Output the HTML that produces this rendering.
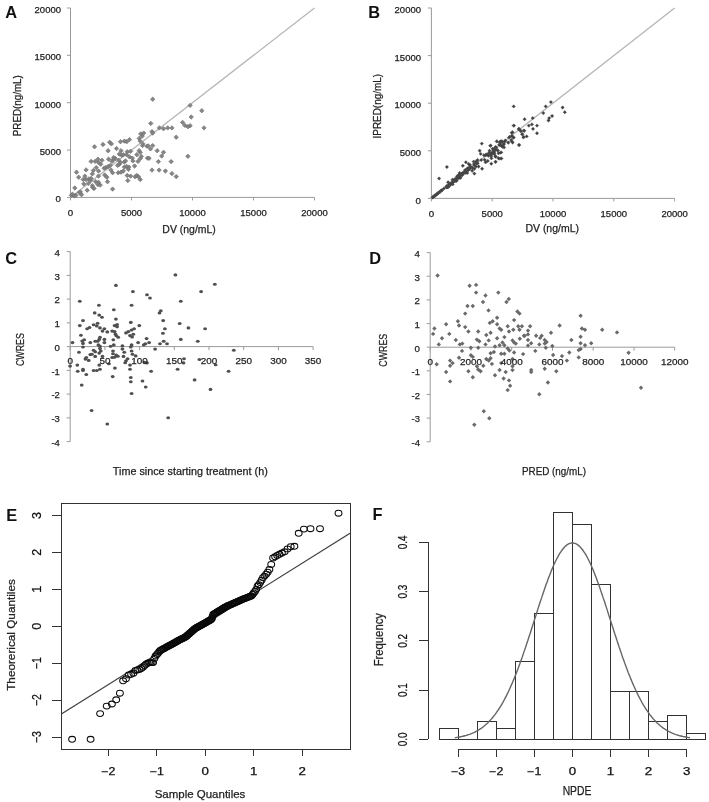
<!DOCTYPE html>
<html lang="en"><head><meta charset="utf-8"><title>Goodness-of-fit plots</title>
<style>html,body{margin:0;padding:0;background:#fff}body{width:709px;height:802px;overflow:hidden}svg{display:block;font-family:'Liberation Sans', Arial, sans-serif}</style></head><body>
<svg width="709" height="802" viewBox="0 0 709 802">
<rect width="709" height="802" fill="#ffffff"/>
<defs><filter id="bl" x="-5%" y="-5%" width="110%" height="110%"><feGaussianBlur stdDeviation="0.45"/></filter></defs>
<g>
<path d="M70.5 8.0V197.4H314.5" fill="none" stroke="#9a9a9a" stroke-width="1"/>
<path d="M67.0 197.4H70.5M70.5 197.4v3M67.0 150.1H70.5M131.5 197.4v3M67.0 102.7H70.5M192.5 197.4v3M67.0 55.3H70.5M253.5 197.4v3M67.0 8.0H70.5M314.5 197.4v3" stroke="#9a9a9a" stroke-width="1" fill="none"/>
<path d="M70.5 197.4L314.5 8.0" stroke="#b6b6b6" stroke-width="1.3" fill="none"/>
<path d="M70.3 194.2L72.5 192.0L74.7 194.2L72.5 196.4ZM72.0 195.9L74.2 193.7L76.4 195.9L74.2 198.1ZM69.2 195.3L71.4 193.1L73.6 195.3L71.4 197.5ZM73.7 195.3L75.9 193.1L78.1 195.3L75.9 197.5ZM72.6 188.0L74.8 185.8L77.0 188.0L74.8 190.2ZM78.2 191.9L80.4 189.7L82.6 191.9L80.4 194.1ZM79.3 194.7L81.5 192.5L83.7 194.7L81.5 196.9ZM77.1 192.5L79.3 190.3L81.5 192.5L79.3 194.7ZM85.0 190.2L87.2 188.0L89.4 190.2L87.2 192.4ZM90.6 187.4L92.8 185.2L95.0 187.4L92.8 189.6ZM91.8 188.5L94.0 186.3L96.2 188.5L94.0 190.7ZM90.1 185.7L92.3 183.5L94.5 185.7L92.3 187.9ZM74.3 172.2L76.5 170.0L78.7 172.2L76.5 174.4ZM76.5 177.2L78.7 175.0L80.9 177.2L78.7 179.4ZM83.9 169.9L86.1 167.7L88.3 169.9L86.1 172.1ZM81.0 179.5L83.2 177.3L85.4 179.5L83.2 181.7ZM82.7 176.1L84.9 173.9L87.1 176.1L84.9 178.3ZM83.9 179.5L86.1 177.3L88.3 179.5L86.1 181.7ZM86.7 178.9L88.9 176.7L91.1 178.9L88.9 181.1ZM88.9 178.4L91.1 176.2L93.3 178.4L91.1 180.6ZM88.4 180.6L90.6 178.4L92.8 180.6L90.6 182.8ZM86.1 183.4L88.3 181.2L90.5 183.4L88.3 185.6ZM81.6 184.0L83.8 181.8L86.0 184.0L83.8 186.2ZM90.1 173.9L92.3 171.7L94.5 173.9L92.3 176.1ZM91.2 170.5L93.4 168.3L95.6 170.5L93.4 172.7ZM94.0 167.6L96.2 165.4L98.4 167.6L96.2 169.8ZM93.4 181.7L95.6 179.5L97.8 181.7L95.6 183.9ZM96.3 182.3L98.5 180.1L100.7 182.3L98.5 184.5ZM95.7 184.6L97.9 182.4L100.1 184.6L97.9 186.8ZM98.0 185.1L100.2 182.9L102.4 185.1L100.2 187.3ZM96.3 176.1L98.5 173.9L100.7 176.1L98.5 178.3ZM96.3 171.0L98.5 168.8L100.7 171.0L98.5 173.2ZM88.9 161.4L91.1 159.2L93.3 161.4L91.1 163.6ZM92.9 161.4L95.1 159.2L97.3 161.4L95.1 163.6ZM95.7 159.2L97.9 157.0L100.1 159.2L97.9 161.4ZM96.3 162.6L98.5 160.4L100.7 162.6L98.5 164.8ZM98.5 164.3L100.7 162.1L102.9 164.3L100.7 166.5ZM99.7 160.3L101.9 158.1L104.1 160.3L101.9 162.5ZM92.3 146.8L94.5 144.6L96.7 146.8L94.5 149.0ZM100.8 144.5L103.0 142.3L105.2 144.5L103.0 146.7ZM107.5 142.3L109.7 140.1L111.9 142.3L109.7 144.5ZM109.2 143.9L111.4 141.7L113.6 143.9L111.4 146.1ZM105.9 150.7L108.1 148.5L110.3 150.7L108.1 152.9ZM106.4 159.2L108.6 157.0L110.8 159.2L108.6 161.4ZM101.9 168.2L104.1 166.0L106.3 168.2L104.1 170.4ZM103.6 167.6L105.8 165.4L108.0 167.6L105.8 169.8ZM105.9 166.5L108.1 164.3L110.3 166.5L108.1 168.7ZM108.1 165.4L110.3 163.2L112.5 165.4L110.3 167.6ZM109.8 161.4L112.0 159.2L114.2 161.4L112.0 163.6ZM110.9 159.7L113.1 157.5L115.3 159.7L113.1 161.9ZM111.5 157.5L113.7 155.3L115.9 157.5L113.7 159.7ZM113.2 158.6L115.4 156.4L117.6 158.6L115.4 160.8ZM114.3 148.5L116.5 146.3L118.7 148.5L116.5 150.7ZM118.8 150.7L121.0 148.5L123.2 150.7L121.0 152.9ZM118.3 141.7L120.5 139.5L122.7 141.7L120.5 143.9ZM122.2 141.1L124.4 138.9L126.6 141.1L124.4 143.3ZM124.5 141.7L126.7 139.5L128.9 141.7L126.7 143.9ZM117.1 154.1L119.3 151.9L121.5 154.1L119.3 156.3ZM119.4 155.2L121.6 153.0L123.8 155.2L121.6 157.4ZM121.1 154.7L123.3 152.5L125.5 154.7L123.3 156.9ZM116.6 160.3L118.8 158.1L121.0 160.3L118.8 162.5ZM118.3 162.6L120.5 160.4L122.7 162.6L120.5 164.8ZM117.1 164.3L119.3 162.1L121.5 164.3L119.3 166.5ZM115.4 165.4L117.6 163.2L119.8 165.4L117.6 167.6ZM122.2 162.0L124.4 159.8L126.6 162.0L124.4 164.2ZM123.3 160.9L125.5 158.7L127.7 160.9L125.5 163.1ZM125.0 151.8L127.2 149.6L129.4 151.8L127.2 154.0ZM128.4 151.3L130.6 149.1L132.8 151.3L130.6 153.5ZM124.5 154.7L126.7 152.5L128.9 154.7L126.7 156.9ZM127.3 156.9L129.5 154.7L131.7 156.9L129.5 159.1ZM130.1 158.1L132.3 155.9L134.5 158.1L132.3 160.3ZM130.7 160.9L132.9 158.7L135.1 160.9L132.9 163.1ZM136.9 150.7L139.1 148.5L141.3 150.7L139.1 152.9ZM138.0 152.4L140.2 150.2L142.4 152.4L140.2 154.6ZM134.6 154.7L136.8 152.5L139.0 154.7L136.8 156.9ZM139.1 156.4L141.3 154.2L143.5 156.4L141.3 158.6ZM138.0 158.6L140.2 156.4L142.4 158.6L140.2 160.8ZM135.8 161.4L138.0 159.2L140.2 161.4L138.0 163.6ZM132.4 166.0L134.6 163.8L136.8 166.0L134.6 168.2ZM122.2 167.1L124.4 164.9L126.6 167.1L124.4 169.3ZM124.5 166.5L126.7 164.3L128.9 166.5L126.7 168.7ZM126.7 167.1L128.9 164.9L131.1 167.1L128.9 169.3ZM126.2 169.3L128.4 167.1L130.6 169.3L128.4 171.5ZM108.7 169.9L110.9 167.7L113.1 169.9L110.9 172.1ZM110.4 172.7L112.6 170.5L114.8 172.7L112.6 174.9ZM116.0 172.7L118.2 170.5L120.4 172.7L118.2 174.9ZM118.8 172.2L121.0 170.0L123.2 172.2L121.0 174.4ZM121.1 171.0L123.3 168.8L125.5 171.0L123.3 173.2ZM102.5 175.0L104.7 172.8L106.9 175.0L104.7 177.2ZM104.7 177.2L106.9 175.0L109.1 177.2L106.9 179.4ZM105.3 181.7L107.5 179.5L109.7 181.7L107.5 183.9ZM110.4 189.1L112.6 186.9L114.8 189.1L112.6 191.3ZM125.0 175.5L127.2 173.3L129.4 175.5L127.2 177.7ZM128.4 176.1L130.6 173.9L132.8 176.1L130.6 178.3ZM125.6 180.6L127.8 178.4L130.0 180.6L127.8 182.8ZM132.9 176.7L135.1 174.5L137.3 176.7L135.1 178.9ZM134.6 175.5L136.8 173.3L139.0 175.5L136.8 177.7ZM136.3 176.7L138.5 174.5L140.7 176.7L138.5 178.9ZM138.0 179.5L140.2 177.3L142.4 179.5L140.2 181.7ZM138.0 141.1L140.2 138.9L142.4 141.1L140.2 143.3ZM140.8 143.9L143.0 141.7L145.2 143.9L143.0 146.1ZM140.3 145.6L142.5 143.4L144.7 145.6L142.5 147.8ZM144.8 146.2L147.0 144.0L149.2 146.2L147.0 148.4ZM145.3 158.1L147.5 155.9L149.7 158.1L147.5 160.3ZM150.5 99.2L152.7 97.0L154.9 99.2L152.7 101.4ZM187.9 105.4L190.1 103.2L192.3 105.4L190.1 107.6ZM199.6 110.7L201.8 108.5L204.0 110.7L201.8 112.9ZM189.0 117.0L191.2 114.8L193.4 117.0L191.2 119.2ZM180.4 122.4L182.6 120.2L184.8 122.4L182.6 124.6ZM182.7 125.4L184.9 123.2L187.1 125.4L184.9 127.6ZM185.7 126.7L187.9 124.5L190.1 126.7L187.9 128.9ZM187.9 125.7L190.1 123.5L192.3 125.7L190.1 127.9ZM201.8 127.9L204.0 125.7L206.2 127.9L204.0 130.1ZM148.6 123.4L150.8 121.2L153.0 123.4L150.8 125.6ZM157.2 127.9L159.4 125.7L161.6 127.9L159.4 130.1ZM161.3 128.7L163.5 126.5L165.7 128.7L163.5 130.9ZM165.5 127.9L167.7 125.7L169.9 127.9L167.7 130.1ZM169.7 127.9L171.9 125.7L174.1 127.9L171.9 130.1ZM149.8 131.6L152.0 129.4L154.2 131.6L152.0 133.8ZM150.5 133.1L152.7 130.9L154.9 133.1L152.7 135.3ZM174.0 137.2L176.2 135.0L178.4 137.2L176.2 139.4ZM150.5 145.6L152.7 143.4L154.9 145.6L152.7 147.8ZM148.3 148.9L150.5 146.7L152.7 148.9L150.5 151.1ZM146.0 145.9L148.2 143.7L150.4 145.9L148.2 148.1ZM155.0 150.7L157.2 148.5L159.4 150.7L157.2 152.9ZM161.3 152.3L163.5 150.1L165.7 152.3L163.5 154.5ZM159.5 156.0L161.7 153.8L163.9 156.0L161.7 158.2ZM146.8 158.3L149.0 156.1L151.2 158.3L149.0 160.5ZM156.2 161.6L158.4 159.4L160.6 161.6L158.4 163.8ZM168.9 161.6L171.1 159.4L173.3 161.6L171.1 163.8ZM185.7 156.3L187.9 154.1L190.1 156.3L187.9 158.5ZM149.8 170.1L152.0 167.9L154.2 170.1L152.0 172.3ZM156.9 170.1L159.1 167.9L161.3 170.1L159.1 172.3ZM163.2 171.0L165.4 168.8L167.6 171.0L165.4 173.2ZM169.7 173.6L171.9 171.4L174.1 173.6L171.9 175.8ZM174.0 176.6L176.2 174.4L178.4 176.6L176.2 178.8ZM127.3 139.6L129.5 137.4L131.7 139.6L129.5 141.8ZM138.5 133.9L140.7 131.7L142.9 133.9L140.7 136.1ZM141.5 133.1L143.7 130.9L145.9 133.1L143.7 135.3ZM140.0 136.1L142.2 133.9L144.4 136.1L142.2 138.3ZM137.0 138.4L139.2 136.2L141.4 138.4L139.2 140.6Z" fill="#868686" stroke="#747474" stroke-width="0.7" filter="url(#bl)"/>
<text x="61" y="202.3" font-size="9.3" text-anchor="end" font-weight="normal" fill="#222" textLength="5.4" lengthAdjust="spacingAndGlyphs" stroke="#222" stroke-width="0.25">0</text>
<text x="70.5" y="215.5" font-size="9.3" text-anchor="middle" font-weight="normal" fill="#222" textLength="5.4" lengthAdjust="spacingAndGlyphs" stroke="#222" stroke-width="0.25">0</text>
<text x="61" y="155.0" font-size="9.3" text-anchor="end" font-weight="normal" fill="#222" textLength="21.2" lengthAdjust="spacingAndGlyphs" stroke="#222" stroke-width="0.25">5000</text>
<text x="131.5" y="215.5" font-size="9.3" text-anchor="middle" font-weight="normal" fill="#222" textLength="21.2" lengthAdjust="spacingAndGlyphs" stroke="#222" stroke-width="0.25">5000</text>
<text x="61" y="107.6" font-size="9.3" text-anchor="end" font-weight="normal" fill="#222" textLength="26.4" lengthAdjust="spacingAndGlyphs" stroke="#222" stroke-width="0.25">10000</text>
<text x="192.5" y="215.5" font-size="9.3" text-anchor="middle" font-weight="normal" fill="#222" textLength="26.4" lengthAdjust="spacingAndGlyphs" stroke="#222" stroke-width="0.25">10000</text>
<text x="61" y="60.2" font-size="9.3" text-anchor="end" font-weight="normal" fill="#222" textLength="26.4" lengthAdjust="spacingAndGlyphs" stroke="#222" stroke-width="0.25">15000</text>
<text x="253.5" y="215.5" font-size="9.3" text-anchor="middle" font-weight="normal" fill="#222" textLength="26.4" lengthAdjust="spacingAndGlyphs" stroke="#222" stroke-width="0.25">15000</text>
<text x="61" y="12.9" font-size="9.3" text-anchor="end" font-weight="normal" fill="#222" textLength="26.4" lengthAdjust="spacingAndGlyphs" stroke="#222" stroke-width="0.25">20000</text>
<text x="314.5" y="215.5" font-size="9.3" text-anchor="middle" font-weight="normal" fill="#222" textLength="26.4" lengthAdjust="spacingAndGlyphs" stroke="#222" stroke-width="0.25">20000</text>
<text x="20.8" y="105.7" font-size="10.5" text-anchor="middle" font-weight="normal" fill="#222" textLength="61" lengthAdjust="spacingAndGlyphs" transform="rotate(-90 20.8 105.7)" stroke="#222" stroke-width="0.25">PRED(ng/mL)</text>
<text x="189.1" y="232.9" font-size="10.5" text-anchor="middle" font-weight="normal" fill="#222" textLength="53.5" lengthAdjust="spacingAndGlyphs" stroke="#222" stroke-width="0.25">DV (ng/mL)</text>
<text x="5.3" y="17.9" font-size="16.4" text-anchor="start" font-weight="bold" fill="#111">A</text>
</g>
<g>
<path d="M431.4 8.0V198.4H674.5999999999999" fill="none" stroke="#9a9a9a" stroke-width="1"/>
<path d="M427.9 198.4H431.4M431.4 198.4v3M427.9 150.8H431.4M492.2 198.4v3M427.9 103.2H431.4M553.0 198.4v3M427.9 55.6H431.4M613.8 198.4v3M427.9 8.0H431.4M674.6 198.4v3" stroke="#9a9a9a" stroke-width="1" fill="none"/>
<path d="M431.4 198.4L674.5999999999999 8.0" stroke="#b6b6b6" stroke-width="1.3" fill="none"/>
<path d="M512.0 106.4L513.7 104.7L515.4 106.4L513.7 108.1ZM549.2 102.1L550.9 100.4L552.6 102.1L550.9 103.8ZM544.0 106.4L545.7 104.7L547.4 106.4L545.7 108.1ZM560.9 107.5L562.6 105.8L564.3 107.5L562.6 109.2ZM563.1 112.2L564.8 110.5L566.5 112.2L564.8 113.9ZM541.6 113.1L543.3 111.4L545.0 113.1L543.3 114.8ZM550.4 116.0L552.1 114.3L553.8 116.0L552.1 117.7ZM547.5 118.1L549.2 116.4L550.9 118.1L549.2 119.8ZM546.8 120.5L548.5 118.8L550.2 120.5L548.5 122.2ZM531.0 118.1L532.7 116.4L534.4 118.1L532.7 119.8ZM522.9 119.2L524.6 117.5L526.3 119.2L524.6 120.9ZM512.0 125.6L513.7 123.9L515.4 125.6L513.7 127.3ZM527.1 125.6L528.8 123.9L530.5 125.6L528.8 127.3ZM530.2 124.4L531.9 122.7L533.6 124.4L531.9 126.1ZM535.3 125.6L537.0 123.9L538.7 125.6L537.0 127.3ZM531.3 128.9L533.0 127.2L534.7 128.9L533.0 130.6ZM517.2 128.7L518.9 127.0L520.6 128.7L518.9 130.4ZM518.3 130.1L520.0 128.4L521.7 130.1L520.0 131.8ZM522.6 130.8L524.3 129.1L526.0 130.8L524.3 132.5ZM535.3 133.2L537.0 131.5L538.7 133.2L537.0 134.9ZM510.9 132.2L512.6 130.5L514.3 132.2L512.6 133.9ZM520.5 134.3L522.2 132.6L523.9 134.3L522.2 136.0ZM525.0 136.4L526.7 134.7L528.4 136.4L526.7 138.1ZM521.7 137.4L523.4 135.7L525.1 137.4L523.4 139.1ZM510.2 135.7L511.9 134.0L513.6 135.7L511.9 137.4ZM512.0 137.5L513.7 135.8L515.4 137.5L513.7 139.2ZM507.3 137.5L509.0 135.8L510.7 137.5L509.0 139.2ZM509.5 139.9L511.2 138.2L512.9 139.9L511.2 141.6ZM510.9 142.5L512.6 140.8L514.3 142.5L512.6 144.2ZM506.6 142.5L508.3 140.8L510.0 142.5L508.3 144.2ZM517.2 144.9L518.9 143.2L520.6 144.9L518.9 146.6ZM495.1 141.4L496.8 139.7L498.5 141.4L496.8 143.1ZM498.9 141.4L500.6 139.7L502.3 141.4L500.6 143.1ZM500.3 142.1L502.0 140.4L503.7 142.1L502.0 143.8ZM503.1 141.4L504.8 139.7L506.5 141.4L504.8 143.1ZM497.5 144.9L499.2 143.2L500.9 144.9L499.2 146.6ZM501.7 144.9L503.4 143.2L505.1 144.9L503.4 146.6ZM500.3 146.3L502.0 144.6L503.7 146.3L502.0 148.0ZM502.4 147.4L504.1 145.7L505.8 147.4L504.1 149.1ZM489.0 145.6L490.7 143.9L492.4 145.6L490.7 147.3ZM496.1 150.5L497.8 148.8L499.5 150.5L497.8 152.2ZM498.9 152.6L500.6 150.9L502.3 152.6L500.6 154.3ZM496.8 153.3L498.5 151.6L500.2 153.3L498.5 155.0ZM492.5 154.0L494.2 152.3L495.9 154.0L494.2 155.7ZM489.7 153.3L491.4 151.6L493.1 153.3L491.4 155.0ZM493.9 156.2L495.6 154.5L497.3 156.2L495.6 157.9ZM497.5 158.6L499.2 156.9L500.9 158.6L499.2 160.3ZM499.6 158.6L501.3 156.9L503.0 158.6L501.3 160.3ZM489.7 158.3L491.4 156.6L493.1 158.3L491.4 160.0ZM493.9 161.8L495.6 160.1L497.3 161.8L495.6 163.5ZM437.4 178.5L439.1 176.8L440.8 178.5L439.1 180.2ZM445.2 167.0L446.9 165.3L448.6 167.0L446.9 168.7ZM480.1 143.6L481.8 141.9L483.5 143.6L481.8 145.3ZM488.6 145.7L490.3 144.0L492.0 145.7L490.3 147.4ZM478.0 150.7L479.7 149.0L481.4 150.7L479.7 152.4ZM479.0 153.9L480.7 152.2L482.4 153.9L480.7 155.6ZM512.2 125.6L513.9 123.9L515.6 125.6L513.9 127.3ZM517.5 145.1L519.2 143.4L520.9 145.1L519.2 146.8ZM461.1 165.8L462.8 164.1L464.5 165.8L462.8 167.5ZM464.2 162.3L465.9 160.6L467.6 162.3L465.9 164.0ZM467.0 164.0L468.7 162.3L470.4 164.0L468.7 165.7ZM472.0 161.6L473.7 159.9L475.4 161.6L473.7 163.3ZM468.4 166.5L470.1 164.8L471.8 166.5L470.1 168.2ZM472.7 168.7L474.4 167.0L476.1 168.7L474.4 170.4ZM470.5 170.8L472.2 169.1L473.9 170.8L472.2 172.5ZM472.7 173.6L474.4 171.9L476.1 173.6L474.4 175.3ZM476.9 166.5L478.6 164.8L480.3 166.5L478.6 168.2ZM480.4 168.7L482.1 167.0L483.8 168.7L482.1 170.4ZM465.6 172.9L467.3 171.2L469.0 172.9L467.3 174.6ZM462.1 172.2L463.8 170.5L465.5 172.2L463.8 173.9ZM457.9 172.9L459.6 171.2L461.3 172.9L459.6 174.6ZM483.9 155.3L485.6 153.6L487.3 155.3L485.6 157.0ZM487.5 154.6L489.2 152.9L490.9 154.6L489.2 156.3ZM489.6 156.0L491.3 154.3L493.0 156.0L491.3 157.7ZM492.4 153.1L494.1 151.4L495.8 153.1L494.1 154.8ZM495.9 150.3L497.6 148.6L499.3 150.3L497.6 152.0ZM499.5 152.4L501.2 150.7L502.9 152.4L501.2 154.1ZM493.8 156.7L495.5 155.0L497.2 156.7L495.5 158.4ZM496.6 158.1L498.3 156.4L500.0 158.1L498.3 159.8ZM499.5 158.4L501.2 156.7L502.9 158.4L501.2 160.1ZM489.6 163.7L491.3 162.0L493.0 163.7L491.3 165.4ZM493.8 161.9L495.5 160.2L497.2 161.9L495.5 163.6ZM486.1 160.9L487.8 159.2L489.5 160.9L487.8 162.6ZM483.9 162.3L485.6 160.6L487.3 162.3L485.6 164.0ZM495.2 141.4L496.9 139.7L498.6 141.4L496.9 143.1ZM498.1 142.6L499.8 140.9L501.5 142.6L499.8 144.3ZM500.2 141.2L501.9 139.5L503.6 141.2L501.9 142.9ZM502.3 144.0L504.0 142.3L505.7 144.0L504.0 145.7ZM500.9 146.8L502.6 145.1L504.3 146.8L502.6 148.5ZM498.8 145.4L500.5 143.7L502.2 145.4L500.5 147.1ZM503.7 140.5L505.4 138.8L507.1 140.5L505.4 142.2ZM506.5 142.6L508.2 140.9L509.9 142.6L508.2 144.3ZM510.0 141.2L511.7 139.5L513.4 141.2L511.7 142.9ZM511.5 137.6L513.2 135.9L514.9 137.6L513.2 139.3ZM507.9 136.9L509.6 135.2L511.3 136.9L509.6 138.6ZM510.0 132.7L511.7 131.0L513.4 132.7L511.7 134.4ZM517.1 129.2L518.8 127.5L520.5 129.2L518.8 130.9ZM519.2 131.3L520.9 129.6L522.6 131.3L520.9 133.0ZM520.6 134.1L522.3 132.4L524.0 134.1L522.3 135.8ZM522.0 136.9L523.7 135.2L525.4 136.9L523.7 138.6ZM522.0 130.6L523.7 128.9L525.4 130.6L523.7 132.3ZM435.2 193.9L436.9 192.2L438.6 193.9L436.9 195.6ZM431.5 196.7L433.2 195.0L434.9 196.7L433.2 198.4ZM438.2 191.8L439.9 190.1L441.6 191.8L439.9 193.5ZM437.8 192.0L439.5 190.3L441.2 192.0L439.5 193.7ZM431.0 197.5L432.7 195.8L434.4 197.5L432.7 199.2ZM431.8 196.8L433.5 195.1L435.2 196.8L433.5 198.5ZM436.6 192.9L438.3 191.2L440.0 192.9L438.3 194.6ZM433.7 195.4L435.4 193.7L437.1 195.4L435.4 197.1ZM439.6 190.4L441.3 188.7L443.0 190.4L441.3 192.1ZM436.2 193.4L437.9 191.7L439.6 193.4L437.9 195.1ZM444.7 186.2L446.4 184.5L448.1 186.2L446.4 187.9ZM434.7 194.4L436.4 192.7L438.1 194.4L436.4 196.1ZM432.5 196.0L434.2 194.3L435.9 196.0L434.2 197.7ZM442.3 188.4L444.0 186.7L445.7 188.4L444.0 190.1ZM433.1 196.1L434.8 194.4L436.5 196.1L434.8 197.8ZM435.9 193.7L437.6 192.0L439.3 193.7L437.6 195.4ZM438.4 191.5L440.1 189.8L441.8 191.5L440.1 193.2ZM433.4 195.4L435.1 193.7L436.8 195.4L435.1 197.1ZM440.4 190.2L442.1 188.5L443.8 190.2L442.1 191.9ZM439.0 191.0L440.7 189.3L442.4 191.0L440.7 192.7ZM452.6 181.1L454.3 179.4L456.0 181.1L454.3 182.8ZM457.0 175.1L458.7 173.4L460.4 175.1L458.7 176.8ZM448.7 184.7L450.4 183.0L452.1 184.7L450.4 186.4ZM460.3 175.1L462.0 173.4L463.7 175.1L462.0 176.8ZM457.6 177.3L459.3 175.6L461.0 177.3L459.3 179.0ZM446.4 182.2L448.1 180.5L449.8 182.2L448.1 183.9ZM451.9 181.0L453.6 179.3L455.3 181.0L453.6 182.7ZM453.2 180.6L454.9 178.9L456.6 180.6L454.9 182.3ZM445.0 187.4L446.7 185.7L448.4 187.4L446.7 189.1ZM454.7 180.5L456.4 178.8L458.1 180.5L456.4 182.2ZM460.3 175.2L462.0 173.5L463.7 175.2L462.0 176.9ZM455.1 176.9L456.8 175.2L458.5 176.9L456.8 178.6ZM454.9 180.8L456.6 179.1L458.3 180.8L456.6 182.5ZM461.5 172.9L463.2 171.2L464.9 172.9L463.2 174.6ZM452.9 180.4L454.6 178.7L456.3 180.4L454.6 182.1ZM457.1 177.3L458.8 175.6L460.5 177.3L458.8 179.0ZM456.1 175.6L457.8 173.9L459.5 175.6L457.8 177.3ZM449.5 183.0L451.2 181.3L452.9 183.0L451.2 184.7ZM451.3 181.6L453.0 179.9L454.7 181.6L453.0 183.3ZM452.7 180.6L454.4 178.9L456.1 180.6L454.4 182.3ZM447.4 184.3L449.1 182.6L450.8 184.3L449.1 186.0ZM458.3 175.7L460.0 174.0L461.7 175.7L460.0 177.4ZM446.7 185.1L448.4 183.4L450.1 185.1L448.4 186.8ZM460.2 173.4L461.9 171.7L463.6 173.4L461.9 175.1ZM445.8 187.2L447.5 185.5L449.2 187.2L447.5 188.9ZM460.4 173.9L462.1 172.2L463.8 173.9L462.1 175.6ZM459.2 174.7L460.9 173.0L462.6 174.7L460.9 176.4ZM451.9 181.7L453.6 180.0L455.3 181.7L453.6 183.4ZM450.8 179.7L452.5 178.0L454.2 179.7L452.5 181.4ZM447.0 186.7L448.7 185.0L450.4 186.7L448.7 188.4ZM447.5 184.4L449.2 182.7L450.9 184.4L449.2 186.1ZM453.1 179.2L454.8 177.5L456.5 179.2L454.8 180.9ZM455.0 178.6L456.7 176.9L458.4 178.6L456.7 180.3ZM451.9 180.9L453.6 179.2L455.3 180.9L453.6 182.6ZM451.0 184.3L452.7 182.6L454.4 184.3L452.7 186.0ZM456.9 178.3L458.6 176.6L460.3 178.3L458.6 180.0ZM453.7 180.9L455.4 179.2L457.1 180.9L455.4 182.6ZM445.3 187.4L447.0 185.7L448.7 187.4L447.0 189.1ZM460.7 173.7L462.4 172.0L464.1 173.7L462.4 175.4ZM458.8 177.9L460.5 176.2L462.2 177.9L460.5 179.6ZM451.4 181.8L453.1 180.1L454.8 181.8L453.1 183.5ZM455.9 177.6L457.6 175.9L459.3 177.6L457.6 179.3ZM464.8 169.9L466.5 168.2L468.2 169.9L466.5 171.6ZM468.5 167.6L470.2 165.9L471.9 167.6L470.2 169.3ZM474.9 163.0L476.6 161.3L478.3 163.0L476.6 164.7ZM468.1 168.4L469.8 166.7L471.5 168.4L469.8 170.1ZM466.2 170.0L467.9 168.3L469.6 170.0L467.9 171.7ZM494.4 147.4L496.1 145.7L497.8 147.4L496.1 149.1ZM484.9 154.4L486.6 152.7L488.3 154.4L486.6 156.1ZM475.2 161.8L476.9 160.1L478.6 161.8L476.9 163.5ZM475.8 160.0L477.5 158.3L479.2 160.0L477.5 161.7ZM498.8 142.1L500.5 140.4L502.2 142.1L500.5 143.8ZM479.5 160.1L481.2 158.4L482.9 160.1L481.2 161.8ZM466.3 169.7L468.0 168.0L469.7 169.7L468.0 171.4ZM475.0 163.2L476.7 161.5L478.4 163.2L476.7 164.9ZM468.4 165.1L470.1 163.4L471.8 165.1L470.1 166.8ZM463.4 170.1L465.1 168.4L466.8 170.1L465.1 171.8ZM467.9 169.1L469.6 167.4L471.3 169.1L469.6 170.8ZM482.3 155.2L484.0 153.5L485.7 155.2L484.0 156.9ZM498.2 144.4L499.9 142.7L501.6 144.4L499.9 146.1ZM494.0 148.5L495.7 146.8L497.4 148.5L495.7 150.2ZM475.9 163.4L477.6 161.7L479.3 163.4L477.6 165.1ZM468.6 167.7L470.3 166.0L472.0 167.7L470.3 169.4ZM491.0 152.4L492.7 150.7L494.4 152.4L492.7 154.1ZM474.6 162.8L476.3 161.1L478.0 162.8L476.3 164.5ZM498.5 141.7L500.2 140.0L501.9 141.7L500.2 143.4ZM493.6 147.3L495.3 145.6L497.0 147.3L495.3 149.0ZM489.5 154.4L491.2 152.7L492.9 154.4L491.2 156.1ZM470.8 167.7L472.5 166.0L474.2 167.7L472.5 169.4ZM463.6 172.0L465.3 170.3L467.0 172.0L465.3 173.7ZM462.2 173.1L463.9 171.4L465.6 173.1L463.9 174.8ZM484.1 154.9L485.8 153.2L487.5 154.9L485.8 156.6ZM492.7 151.8L494.4 150.1L496.1 151.8L494.4 153.5ZM493.8 147.3L495.5 145.6L497.2 147.3L495.5 149.0ZM492.7 149.7L494.4 148.0L496.1 149.7L494.4 151.4ZM468.8 167.2L470.5 165.5L472.2 167.2L470.5 168.9ZM467.8 168.1L469.5 166.4L471.2 168.1L469.5 169.8ZM490.9 148.8L492.6 147.1L494.3 148.8L492.6 150.5ZM488.9 153.8L490.6 152.1L492.3 153.8L490.6 155.5ZM487.6 152.9L489.3 151.2L491.0 152.9L489.3 154.6ZM464.1 172.9L465.8 171.2L467.5 172.9L465.8 174.6ZM487.0 155.8L488.7 154.1L490.4 155.8L488.7 157.5ZM485.9 155.1L487.6 153.4L489.3 155.1L487.6 156.8ZM487.2 153.3L488.9 151.6L490.6 153.3L488.9 155.0ZM472.2 164.1L473.9 162.4L475.6 164.1L473.9 165.8ZM474.3 166.6L476.0 164.9L477.7 166.6L476.0 168.3ZM474.5 161.5L476.2 159.8L477.9 161.5L476.2 163.2ZM466.9 169.9L468.6 168.2L470.3 169.9L468.6 171.6ZM465.5 168.8L467.2 167.1L468.9 168.8L467.2 170.5ZM487.8 150.7L489.5 149.0L491.2 150.7L489.5 152.4ZM466.1 168.3L467.8 166.6L469.5 168.3L467.8 170.0ZM482.9 159.8L484.6 158.1L486.3 159.8L484.6 161.5ZM472.8 165.3L474.5 163.6L476.2 165.3L474.5 167.0ZM461.8 173.5L463.5 171.8L465.2 173.5L463.5 175.2ZM493.2 149.6L494.9 147.9L496.6 149.6L494.9 151.3ZM492.0 150.9L493.7 149.2L495.4 150.9L493.7 152.6Z" fill="#404040" stroke="#4a4a4a" stroke-width="0.4" filter="url(#bl)"/>
<text x="421" y="203.6" font-size="9.3" text-anchor="end" font-weight="normal" fill="#222" textLength="5.4" lengthAdjust="spacingAndGlyphs" stroke="#222" stroke-width="0.25">0</text>
<text x="431.4" y="216.8" font-size="9.3" text-anchor="middle" font-weight="normal" fill="#222" textLength="5.4" lengthAdjust="spacingAndGlyphs" stroke="#222" stroke-width="0.25">0</text>
<text x="421" y="156.0" font-size="9.3" text-anchor="end" font-weight="normal" fill="#222" textLength="21.2" lengthAdjust="spacingAndGlyphs" stroke="#222" stroke-width="0.25">5000</text>
<text x="492.2" y="216.8" font-size="9.3" text-anchor="middle" font-weight="normal" fill="#222" textLength="21.2" lengthAdjust="spacingAndGlyphs" stroke="#222" stroke-width="0.25">5000</text>
<text x="421" y="108.4" font-size="9.3" text-anchor="end" font-weight="normal" fill="#222" textLength="26.4" lengthAdjust="spacingAndGlyphs" stroke="#222" stroke-width="0.25">10000</text>
<text x="553.0" y="216.8" font-size="9.3" text-anchor="middle" font-weight="normal" fill="#222" textLength="26.4" lengthAdjust="spacingAndGlyphs" stroke="#222" stroke-width="0.25">10000</text>
<text x="421" y="60.8" font-size="9.3" text-anchor="end" font-weight="normal" fill="#222" textLength="26.4" lengthAdjust="spacingAndGlyphs" stroke="#222" stroke-width="0.25">15000</text>
<text x="613.8" y="216.8" font-size="9.3" text-anchor="middle" font-weight="normal" fill="#222" textLength="26.4" lengthAdjust="spacingAndGlyphs" stroke="#222" stroke-width="0.25">15000</text>
<text x="421" y="13.2" font-size="9.3" text-anchor="end" font-weight="normal" fill="#222" textLength="26.4" lengthAdjust="spacingAndGlyphs" stroke="#222" stroke-width="0.25">20000</text>
<text x="674.6" y="216.8" font-size="9.3" text-anchor="middle" font-weight="normal" fill="#222" textLength="26.4" lengthAdjust="spacingAndGlyphs" stroke="#222" stroke-width="0.25">20000</text>
<text x="381.2" y="106.2" font-size="10.5" text-anchor="middle" font-weight="normal" fill="#222" textLength="64.6" lengthAdjust="spacingAndGlyphs" transform="rotate(-90 381.2 106.2)" stroke="#222" stroke-width="0.25">IPRED(ng/mL)</text>
<text x="552.2" y="232.4" font-size="10.5" text-anchor="middle" font-weight="normal" fill="#222" textLength="53.5" lengthAdjust="spacingAndGlyphs" stroke="#222" stroke-width="0.25">DV (ng/mL)</text>
<text x="368.2" y="18.2" font-size="16.4" text-anchor="start" font-weight="bold" fill="#111">B</text>
</g>
<g>
<path d="M70.2 251.6V441.6M70.2 346.6H313.1" fill="none" stroke="#9a9a9a" stroke-width="1"/>
<path d="M66.7 441.6H70.2M66.7 417.9H70.2M66.7 394.1H70.2M66.7 370.4H70.2M66.7 346.6H70.2M66.7 322.9H70.2M66.7 299.1H70.2M66.7 275.4H70.2M66.7 251.6H70.2M70.2 346.6v3.5M104.9 346.6v3.5M139.6 346.6v3.5M174.3 346.6v3.5M209.0 346.6v3.5M243.7 346.6v3.5M278.4 346.6v3.5M313.1 346.6v3.5" stroke="#9a9a9a" stroke-width="1" fill="none"/>
<g fill="#505050" filter="url(#bl)"><ellipse cx="115.9" cy="285.4" rx="1.9" ry="1.55"/><ellipse cx="132.9" cy="291.6" rx="1.9" ry="1.55"/><ellipse cx="147.0" cy="294.8" rx="1.9" ry="1.55"/><ellipse cx="150.0" cy="298.0" rx="1.9" ry="1.55"/><ellipse cx="79.8" cy="301.3" rx="1.9" ry="1.55"/><ellipse cx="98.9" cy="305.3" rx="1.9" ry="1.55"/><ellipse cx="131.6" cy="305.3" rx="1.9" ry="1.55"/><ellipse cx="113.8" cy="309.7" rx="1.9" ry="1.55"/><ellipse cx="160.8" cy="310.8" rx="1.9" ry="1.55"/><ellipse cx="159.5" cy="312.9" rx="1.9" ry="1.55"/><ellipse cx="94.7" cy="312.9" rx="1.9" ry="1.55"/><ellipse cx="99.2" cy="315.1" rx="1.9" ry="1.55"/><ellipse cx="102.0" cy="317.3" rx="1.9" ry="1.55"/><ellipse cx="115.9" cy="319.1" rx="1.9" ry="1.55"/><ellipse cx="83.0" cy="320.6" rx="1.9" ry="1.55"/><ellipse cx="163.2" cy="320.6" rx="1.9" ry="1.55"/><ellipse cx="130.8" cy="322.4" rx="1.9" ry="1.55"/><ellipse cx="97.6" cy="323.2" rx="1.9" ry="1.55"/><ellipse cx="93.6" cy="324.8" rx="1.9" ry="1.55"/><ellipse cx="96.8" cy="325.9" rx="1.9" ry="1.55"/><ellipse cx="79.8" cy="325.6" rx="1.9" ry="1.55"/><ellipse cx="114.6" cy="325.6" rx="1.9" ry="1.55"/><ellipse cx="117.1" cy="324.6" rx="1.9" ry="1.55"/><ellipse cx="117.1" cy="326.7" rx="1.9" ry="1.55"/><ellipse cx="139.3" cy="325.6" rx="1.9" ry="1.55"/><ellipse cx="89.5" cy="327.5" rx="1.9" ry="1.55"/><ellipse cx="87.1" cy="328.7" rx="1.9" ry="1.55"/><ellipse cx="100.0" cy="327.9" rx="1.9" ry="1.55"/><ellipse cx="104.4" cy="328.8" rx="1.9" ry="1.55"/><ellipse cx="102.5" cy="331.1" rx="1.9" ry="1.55"/><ellipse cx="107.3" cy="331.9" rx="1.9" ry="1.55"/><ellipse cx="112.2" cy="331.1" rx="1.9" ry="1.55"/><ellipse cx="114.6" cy="331.6" rx="1.9" ry="1.55"/><ellipse cx="115.4" cy="334.0" rx="1.9" ry="1.55"/><ellipse cx="116.2" cy="335.6" rx="1.9" ry="1.55"/><ellipse cx="118.2" cy="337.3" rx="1.9" ry="1.55"/><ellipse cx="134.1" cy="328.8" rx="1.9" ry="1.55"/><ellipse cx="131.6" cy="330.0" rx="1.9" ry="1.55"/><ellipse cx="128.4" cy="331.6" rx="1.9" ry="1.55"/><ellipse cx="126.0" cy="332.9" rx="1.9" ry="1.55"/><ellipse cx="164.9" cy="328.7" rx="1.9" ry="1.55"/><ellipse cx="162.9" cy="333.2" rx="1.9" ry="1.55"/><ellipse cx="80.9" cy="335.3" rx="1.9" ry="1.55"/><ellipse cx="133.3" cy="334.3" rx="1.9" ry="1.55"/><ellipse cx="130.0" cy="335.6" rx="1.9" ry="1.55"/><ellipse cx="132.1" cy="336.9" rx="1.9" ry="1.55"/><ellipse cx="100.0" cy="337.3" rx="1.9" ry="1.55"/><ellipse cx="99.2" cy="339.4" rx="1.9" ry="1.55"/><ellipse cx="104.4" cy="339.4" rx="1.9" ry="1.55"/><ellipse cx="113.3" cy="339.7" rx="1.9" ry="1.55"/><ellipse cx="84.2" cy="339.7" rx="1.9" ry="1.55"/><ellipse cx="82.2" cy="341.0" rx="1.9" ry="1.55"/><ellipse cx="146.6" cy="338.6" rx="1.9" ry="1.55"/><ellipse cx="72.5" cy="342.6" rx="1.9" ry="1.55"/><ellipse cx="83.0" cy="343.4" rx="1.9" ry="1.55"/><ellipse cx="90.3" cy="342.6" rx="1.9" ry="1.55"/><ellipse cx="95.2" cy="341.3" rx="1.9" ry="1.55"/><ellipse cx="97.6" cy="341.3" rx="1.9" ry="1.55"/><ellipse cx="104.4" cy="342.6" rx="1.9" ry="1.55"/><ellipse cx="138.1" cy="342.6" rx="1.9" ry="1.55"/><ellipse cx="149.1" cy="342.6" rx="1.9" ry="1.55"/><ellipse cx="145.4" cy="343.7" rx="1.9" ry="1.55"/><ellipse cx="143.8" cy="344.9" rx="1.9" ry="1.55"/><ellipse cx="131.6" cy="344.9" rx="1.9" ry="1.55"/><ellipse cx="160.0" cy="343.7" rx="1.9" ry="1.55"/><ellipse cx="163.7" cy="341.3" rx="1.9" ry="1.55"/><ellipse cx="98.4" cy="344.9" rx="1.9" ry="1.55"/><ellipse cx="100.0" cy="346.2" rx="1.9" ry="1.55"/><ellipse cx="113.8" cy="344.9" rx="1.9" ry="1.55"/><ellipse cx="110.6" cy="346.2" rx="1.9" ry="1.55"/><ellipse cx="83.0" cy="347.0" rx="1.9" ry="1.55"/><ellipse cx="122.4" cy="345.9" rx="1.9" ry="1.55"/><ellipse cx="130.8" cy="347.0" rx="1.9" ry="1.55"/><ellipse cx="122.4" cy="349.1" rx="1.9" ry="1.55"/><ellipse cx="155.1" cy="349.1" rx="1.9" ry="1.55"/><ellipse cx="100.0" cy="348.6" rx="1.9" ry="1.55"/><ellipse cx="131.6" cy="351.0" rx="1.9" ry="1.55"/><ellipse cx="93.6" cy="350.2" rx="1.9" ry="1.55"/><ellipse cx="95.2" cy="351.8" rx="1.9" ry="1.55"/><ellipse cx="100.8" cy="351.0" rx="1.9" ry="1.55"/><ellipse cx="113.0" cy="351.0" rx="1.9" ry="1.55"/><ellipse cx="124.3" cy="352.2" rx="1.9" ry="1.55"/><ellipse cx="79.0" cy="352.3" rx="1.9" ry="1.55"/><ellipse cx="99.2" cy="353.1" rx="1.9" ry="1.55"/><ellipse cx="91.9" cy="354.3" rx="1.9" ry="1.55"/><ellipse cx="90.3" cy="354.6" rx="1.9" ry="1.55"/><ellipse cx="113.0" cy="353.8" rx="1.9" ry="1.55"/><ellipse cx="116.2" cy="355.1" rx="1.9" ry="1.55"/><ellipse cx="117.9" cy="356.2" rx="1.9" ry="1.55"/><ellipse cx="114.6" cy="357.2" rx="1.9" ry="1.55"/><ellipse cx="112.2" cy="357.5" rx="1.9" ry="1.55"/><ellipse cx="132.5" cy="354.3" rx="1.9" ry="1.55"/><ellipse cx="135.7" cy="355.9" rx="1.9" ry="1.55"/><ellipse cx="123.5" cy="356.4" rx="1.9" ry="1.55"/><ellipse cx="95.2" cy="356.4" rx="1.9" ry="1.55"/><ellipse cx="86.3" cy="357.5" rx="1.9" ry="1.55"/><ellipse cx="85.4" cy="359.1" rx="1.9" ry="1.55"/><ellipse cx="88.7" cy="360.4" rx="1.9" ry="1.55"/><ellipse cx="127.6" cy="358.8" rx="1.9" ry="1.55"/><ellipse cx="126.0" cy="360.8" rx="1.9" ry="1.55"/><ellipse cx="125.2" cy="362.7" rx="1.9" ry="1.55"/><ellipse cx="102.5" cy="356.4" rx="1.9" ry="1.55"/><ellipse cx="108.9" cy="363.7" rx="1.9" ry="1.55"/><ellipse cx="147.0" cy="362.9" rx="1.9" ry="1.55"/><ellipse cx="144.6" cy="362.4" rx="1.9" ry="1.55"/><ellipse cx="70.1" cy="366.1" rx="1.9" ry="1.55"/><ellipse cx="77.3" cy="365.1" rx="1.9" ry="1.55"/><ellipse cx="99.2" cy="365.1" rx="1.9" ry="1.55"/><ellipse cx="130.0" cy="365.1" rx="1.9" ry="1.55"/><ellipse cx="114.9" cy="368.1" rx="1.9" ry="1.55"/><ellipse cx="83.0" cy="369.2" rx="1.9" ry="1.55"/><ellipse cx="83.0" cy="370.5" rx="1.9" ry="1.55"/><ellipse cx="77.7" cy="371.3" rx="1.9" ry="1.55"/><ellipse cx="93.6" cy="370.5" rx="1.9" ry="1.55"/><ellipse cx="96.8" cy="370.5" rx="1.9" ry="1.55"/><ellipse cx="100.0" cy="369.2" rx="1.9" ry="1.55"/><ellipse cx="130.0" cy="369.2" rx="1.9" ry="1.55"/><ellipse cx="151.1" cy="371.3" rx="1.9" ry="1.55"/><ellipse cx="86.3" cy="374.5" rx="1.9" ry="1.55"/><ellipse cx="112.7" cy="376.6" rx="1.9" ry="1.55"/><ellipse cx="130.8" cy="377.5" rx="1.9" ry="1.55"/><ellipse cx="130.8" cy="381.8" rx="1.9" ry="1.55"/><ellipse cx="142.5" cy="381.0" rx="1.9" ry="1.55"/><ellipse cx="81.7" cy="385.1" rx="1.9" ry="1.55"/><ellipse cx="145.7" cy="387.0" rx="1.9" ry="1.55"/><ellipse cx="131.6" cy="393.5" rx="1.9" ry="1.55"/><ellipse cx="175.4" cy="274.9" rx="1.9" ry="1.55"/><ellipse cx="214.8" cy="284.3" rx="1.9" ry="1.55"/><ellipse cx="201.1" cy="291.6" rx="1.9" ry="1.55"/><ellipse cx="180.8" cy="301.3" rx="1.9" ry="1.55"/><ellipse cx="179.7" cy="323.5" rx="1.9" ry="1.55"/><ellipse cx="188.4" cy="327.9" rx="1.9" ry="1.55"/><ellipse cx="205.1" cy="328.8" rx="1.9" ry="1.55"/><ellipse cx="180.8" cy="339.4" rx="1.9" ry="1.55"/><ellipse cx="197.8" cy="341.3" rx="1.9" ry="1.55"/><ellipse cx="167.0" cy="343.7" rx="1.9" ry="1.55"/><ellipse cx="233.8" cy="350.2" rx="1.9" ry="1.55"/><ellipse cx="184.0" cy="358.8" rx="1.9" ry="1.55"/><ellipse cx="183.5" cy="362.9" rx="1.9" ry="1.55"/><ellipse cx="199.4" cy="359.5" rx="1.9" ry="1.55"/><ellipse cx="215.6" cy="364.8" rx="1.9" ry="1.55"/><ellipse cx="177.6" cy="369.2" rx="1.9" ry="1.55"/><ellipse cx="228.6" cy="371.3" rx="1.9" ry="1.55"/><ellipse cx="194.6" cy="379.9" rx="1.9" ry="1.55"/><ellipse cx="210.5" cy="389.4" rx="1.9" ry="1.55"/><ellipse cx="91.6" cy="410.5" rx="1.9" ry="1.55"/><ellipse cx="107.3" cy="424.0" rx="1.9" ry="1.55"/><ellipse cx="168.2" cy="417.7" rx="1.9" ry="1.55"/></g>
<text x="59.8" y="445.9" font-size="9.7" text-anchor="end" font-weight="normal" fill="#222" textLength="8.4" lengthAdjust="spacingAndGlyphs" stroke="#222" stroke-width="0.25">-4</text>
<text x="59.8" y="422.2" font-size="9.7" text-anchor="end" font-weight="normal" fill="#222" textLength="8.4" lengthAdjust="spacingAndGlyphs" stroke="#222" stroke-width="0.25">-3</text>
<text x="59.8" y="398.4" font-size="9.7" text-anchor="end" font-weight="normal" fill="#222" textLength="8.4" lengthAdjust="spacingAndGlyphs" stroke="#222" stroke-width="0.25">-2</text>
<text x="59.8" y="374.7" font-size="9.7" text-anchor="end" font-weight="normal" fill="#222" textLength="8.4" lengthAdjust="spacingAndGlyphs" stroke="#222" stroke-width="0.25">-1</text>
<text x="59.8" y="350.9" font-size="9.7" text-anchor="end" font-weight="normal" fill="#222" textLength="5.4" lengthAdjust="spacingAndGlyphs" stroke="#222" stroke-width="0.25">0</text>
<text x="59.8" y="327.2" font-size="9.7" text-anchor="end" font-weight="normal" fill="#222" textLength="5.4" lengthAdjust="spacingAndGlyphs" stroke="#222" stroke-width="0.25">1</text>
<text x="59.8" y="303.4" font-size="9.7" text-anchor="end" font-weight="normal" fill="#222" textLength="5.4" lengthAdjust="spacingAndGlyphs" stroke="#222" stroke-width="0.25">2</text>
<text x="59.8" y="279.7" font-size="9.7" text-anchor="end" font-weight="normal" fill="#222" textLength="5.4" lengthAdjust="spacingAndGlyphs" stroke="#222" stroke-width="0.25">3</text>
<text x="59.8" y="255.9" font-size="9.7" text-anchor="end" font-weight="normal" fill="#222" textLength="5.4" lengthAdjust="spacingAndGlyphs" stroke="#222" stroke-width="0.25">4</text>
<text x="70.2" y="364.1" font-size="9.7" text-anchor="middle" font-weight="normal" fill="#222" textLength="5.5" lengthAdjust="spacingAndGlyphs" stroke="#222" stroke-width="0.25">0</text>
<text x="104.9" y="364.1" font-size="9.7" text-anchor="middle" font-weight="normal" fill="#222" textLength="11.0" lengthAdjust="spacingAndGlyphs" stroke="#222" stroke-width="0.25">50</text>
<text x="139.6" y="364.1" font-size="9.7" text-anchor="middle" font-weight="normal" fill="#222" textLength="16.5" lengthAdjust="spacingAndGlyphs" stroke="#222" stroke-width="0.25">100</text>
<text x="174.3" y="364.1" font-size="9.7" text-anchor="middle" font-weight="normal" fill="#222" textLength="16.5" lengthAdjust="spacingAndGlyphs" stroke="#222" stroke-width="0.25">150</text>
<text x="209.0" y="364.1" font-size="9.7" text-anchor="middle" font-weight="normal" fill="#222" textLength="16.5" lengthAdjust="spacingAndGlyphs" stroke="#222" stroke-width="0.25">200</text>
<text x="243.7" y="364.1" font-size="9.7" text-anchor="middle" font-weight="normal" fill="#222" textLength="16.5" lengthAdjust="spacingAndGlyphs" stroke="#222" stroke-width="0.25">250</text>
<text x="278.4" y="364.1" font-size="9.7" text-anchor="middle" font-weight="normal" fill="#222" textLength="16.5" lengthAdjust="spacingAndGlyphs" stroke="#222" stroke-width="0.25">300</text>
<text x="313.1" y="364.1" font-size="9.7" text-anchor="middle" font-weight="normal" fill="#222" textLength="16.5" lengthAdjust="spacingAndGlyphs" stroke="#222" stroke-width="0.25">350</text>
<text x="23.7" y="349.6" font-size="10.5" text-anchor="middle" font-weight="normal" fill="#222" textLength="33" lengthAdjust="spacingAndGlyphs" transform="rotate(-90 23.7 349.6)" stroke="#222" stroke-width="0.25">CWRES</text>
<text x="190.3" y="474.7" font-size="10.5" text-anchor="middle" font-weight="normal" fill="#222" textLength="155" lengthAdjust="spacingAndGlyphs" stroke="#222" stroke-width="0.25">Time since starting treatment (h)</text>
<text x="5.2" y="263.6" font-size="16.4" text-anchor="start" font-weight="bold" fill="#111">C</text>
</g>
<g>
<path d="M430.2 252.6V441.8M430.2 347.2H674.7" fill="none" stroke="#9a9a9a" stroke-width="1"/>
<path d="M426.7 441.8H430.2M426.7 418.1H430.2M426.7 394.5H430.2M426.7 370.8H430.2M426.7 347.2H430.2M426.7 323.6H430.2M426.7 299.9H430.2M426.7 276.2H430.2M426.7 252.6H430.2M430.2 347.2v3.5M470.9 347.2v3.5M511.7 347.2v3.5M552.5 347.2v3.5M593.2 347.2v3.5M634.0 347.2v3.5M674.7 347.2v3.5" stroke="#9a9a9a" stroke-width="1" fill="none"/>
<path d="M435.4 275.5L437.6 273.3L439.8 275.5L437.6 277.7ZM467.4 285.7L469.6 283.5L471.8 285.7L469.6 287.9ZM473.9 284.9L476.1 282.7L478.3 284.9L476.1 287.1ZM473.9 292.6L476.1 290.4L478.3 292.6L476.1 294.8ZM496.1 292.6L498.3 290.4L500.5 292.6L498.3 294.8ZM483.3 295.5L485.5 293.3L487.7 295.5L485.5 297.7ZM506.6 299.0L508.8 296.8L511.0 299.0L508.8 301.2ZM504.3 302.0L506.5 299.8L508.7 302.0L506.5 304.2ZM480.8 302.0L483.0 299.8L485.2 302.0L483.0 304.2ZM465.3 306.0L467.5 303.8L469.7 306.0L467.5 308.2ZM470.6 306.0L472.8 303.8L475.0 306.0L472.8 308.2ZM486.3 310.4L488.5 308.2L490.7 310.4L488.5 312.6ZM515.2 311.5L517.4 309.3L519.6 311.5L517.4 313.7ZM517.3 313.6L519.5 311.4L521.7 313.6L519.5 315.8ZM463.0 313.6L465.2 311.4L467.4 313.6L465.2 315.8ZM494.9 317.7L497.1 315.5L499.3 317.7L497.1 319.9ZM511.9 320.1L514.1 317.9L516.3 320.1L514.1 322.3ZM455.7 321.2L457.9 319.0L460.1 321.2L457.9 323.4ZM490.5 321.2L492.7 319.0L494.9 321.2L492.7 323.4ZM487.6 322.9L489.8 320.7L492.0 322.9L489.8 325.1ZM494.9 324.2L497.1 322.0L499.3 324.2L497.1 326.4ZM443.9 324.2L446.1 322.0L448.3 324.2L446.1 326.4ZM456.8 325.5L459.0 323.3L461.2 325.5L459.0 327.7ZM463.0 327.1L465.2 324.9L467.4 327.1L465.2 329.3ZM505.5 326.3L507.7 324.1L509.9 326.3L507.7 328.5ZM516.0 326.3L518.2 324.1L520.4 326.3L518.2 328.5ZM519.7 326.3L521.9 324.1L524.1 326.3L521.9 328.5ZM432.2 328.5L434.4 326.3L436.6 328.5L434.4 330.7ZM497.4 328.5L499.6 326.3L501.8 328.5L499.6 330.7ZM499.0 329.8L501.2 327.6L503.4 329.8L501.2 332.0ZM511.1 329.8L513.3 327.6L515.5 329.8L513.3 332.0ZM517.3 329.8L519.5 327.6L521.7 329.8L519.5 332.0ZM466.2 331.5L468.4 329.3L470.6 331.5L468.4 333.7ZM476.0 331.5L478.2 329.3L480.4 331.5L478.2 333.7ZM488.4 332.7L490.6 330.5L492.8 332.7L490.6 334.9ZM506.8 331.5L509.0 329.3L511.2 331.5L509.0 333.7ZM430.9 333.9L433.1 331.7L435.3 333.9L433.1 336.1ZM447.1 333.9L449.3 331.7L451.5 333.9L449.3 336.1ZM484.1 335.0L486.3 332.8L488.5 335.0L486.3 337.2ZM521.7 335.8L523.9 333.6L526.1 335.8L523.9 338.0ZM502.2 337.1L504.4 334.9L506.6 337.1L504.4 339.3ZM439.8 338.3L442.0 336.1L444.2 338.3L442.0 340.5ZM494.9 338.3L497.1 336.1L499.3 338.3L497.1 340.5ZM517.6 338.7L519.8 336.5L522.0 338.7L519.8 340.9ZM453.6 340.0L455.8 337.8L458.0 340.0L455.8 342.2ZM474.7 339.6L476.9 337.4L479.1 339.6L476.9 341.8ZM477.1 341.2L479.3 339.0L481.5 341.2L479.3 343.4ZM486.5 340.4L488.7 338.2L490.9 340.4L488.7 342.6ZM510.3 340.4L512.5 338.2L514.7 340.4L512.5 342.6ZM511.9 342.5L514.1 340.3L516.3 342.5L514.1 344.7ZM513.6 343.6L515.8 341.4L518.0 343.6L515.8 345.8ZM500.3 342.5L502.5 340.3L504.7 342.5L502.5 344.7ZM436.6 344.4L438.8 342.2L441.0 344.4L438.8 346.6ZM457.6 344.4L459.8 342.2L462.0 344.4L459.8 346.6ZM460.1 343.6L462.3 341.4L464.5 343.6L462.3 345.8ZM483.3 344.4L485.5 342.2L487.7 344.4L485.5 346.6ZM497.4 345.2L499.6 343.0L501.8 345.2L499.6 347.4ZM502.2 345.2L504.4 343.0L506.6 345.2L504.4 347.4ZM492.8 346.5L495.0 344.3L497.2 346.5L495.0 348.7ZM468.7 347.7L470.9 345.5L473.1 347.7L470.9 349.9ZM476.0 347.7L478.2 345.5L480.4 347.7L478.2 349.9ZM505.5 348.5L507.7 346.3L509.9 348.5L507.7 350.7ZM507.1 350.6L509.3 348.4L511.5 350.6L509.3 352.8ZM459.8 350.9L462.0 348.7L464.2 350.9L462.0 353.1ZM491.7 352.0L493.9 349.8L496.1 352.0L493.9 354.2ZM488.4 353.3L490.6 351.1L492.8 353.3L490.6 355.5ZM511.9 352.5L514.1 350.3L516.3 352.5L514.1 354.7ZM520.9 354.1L523.1 351.9L525.3 354.1L523.1 356.3ZM499.0 353.8L501.2 351.6L503.4 353.8L501.2 356.0ZM502.2 353.8L504.4 351.6L506.6 353.8L504.4 356.0ZM468.7 355.3L470.9 353.1L473.1 355.3L470.9 357.5ZM470.6 356.9L472.8 354.7L475.0 356.9L472.8 359.1ZM456.8 357.7L459.0 355.5L461.2 357.7L459.0 359.9ZM484.1 359.0L486.3 356.8L488.5 359.0L486.3 361.2ZM488.4 358.2L490.6 356.0L492.8 358.2L490.6 360.4ZM486.5 360.6L488.7 358.4L490.9 360.6L488.7 362.8ZM447.9 360.6L450.1 358.4L452.3 360.6L450.1 362.8ZM510.3 359.0L512.5 356.8L514.7 359.0L512.5 361.2ZM434.5 364.2L436.7 362.0L438.9 364.2L436.7 366.4ZM450.4 363.1L452.6 360.9L454.8 363.1L452.6 365.3ZM447.9 365.8L450.1 363.6L452.3 365.8L450.1 368.0ZM489.7 363.9L491.9 361.7L494.1 363.9L491.9 366.1ZM499.0 363.1L501.2 360.9L503.4 363.1L501.2 365.3ZM474.7 366.3L476.9 364.1L479.1 366.3L476.9 368.5ZM476.0 369.5L478.2 367.3L480.4 369.5L478.2 371.7ZM478.4 371.2L480.6 369.0L482.8 371.2L480.6 373.4ZM481.1 365.8L483.3 363.6L485.5 365.8L483.3 368.0ZM510.3 366.3L512.5 364.1L514.7 366.3L512.5 368.5ZM466.2 371.2L468.4 369.0L470.6 371.2L468.4 373.4ZM443.9 372.0L446.1 369.8L448.3 372.0L446.1 374.2ZM497.4 370.0L499.6 367.8L501.8 370.0L499.6 372.2ZM503.5 372.0L505.7 369.8L507.9 372.0L505.7 374.2ZM510.3 370.0L512.5 367.8L514.7 370.0L512.5 372.2ZM492.8 375.2L495.0 373.0L497.2 375.2L495.0 377.4ZM470.6 377.2L472.8 375.0L475.0 377.2L472.8 379.4ZM501.4 378.5L503.6 376.3L505.8 378.5L503.6 380.7ZM447.9 381.4L450.1 379.2L452.3 381.4L450.1 383.6ZM506.8 380.4L509.0 378.2L511.2 380.4L509.0 382.6ZM507.9 385.7L510.1 383.5L512.3 385.7L510.1 387.9ZM505.5 390.1L507.7 387.9L509.9 390.1L507.7 392.3ZM578.4 315.7L580.6 313.5L582.8 315.7L580.6 317.9ZM557.4 325.5L559.6 323.3L561.8 325.5L559.6 327.7ZM527.9 326.3L530.1 324.1L532.3 326.3L530.1 328.5ZM579.7 328.5L581.9 326.3L584.1 328.5L581.9 330.7ZM582.8 329.8L585.0 327.6L587.2 329.8L585.0 332.0ZM600.0 329.8L602.2 327.6L604.4 329.8L602.2 332.0ZM525.8 330.6L528.0 328.4L530.2 330.6L528.0 332.8ZM548.8 332.7L551.0 330.5L553.2 332.7L551.0 334.9ZM525.8 334.4L528.0 332.2L530.2 334.4L528.0 336.6ZM522.5 335.8L524.7 333.6L526.9 335.8L524.7 338.0ZM533.9 335.8L536.1 333.6L538.3 335.8L536.1 338.0ZM539.5 335.8L541.7 333.6L543.9 335.8L541.7 338.0ZM537.9 337.9L540.1 335.7L542.3 337.9L540.1 340.1ZM578.4 336.8L580.6 334.6L582.8 336.8L580.6 339.0ZM569.2 340.0L571.4 337.8L573.6 340.0L571.4 342.2ZM542.5 340.0L544.7 337.8L546.9 340.0L544.7 342.2ZM544.4 342.0L546.6 339.8L548.8 342.0L546.6 344.2ZM525.8 340.0L528.0 337.8L530.2 340.0L528.0 342.2ZM529.0 343.3L531.2 341.1L533.4 343.3L531.2 345.5ZM537.1 344.4L539.3 342.2L541.5 344.4L539.3 346.6ZM542.5 343.6L544.7 341.4L546.9 343.6L544.7 345.8ZM578.4 343.3L580.6 341.1L582.8 343.3L580.6 345.5ZM589.0 343.3L591.2 341.1L593.4 343.3L591.2 345.5ZM582.8 345.2L585.0 343.0L587.2 345.2L585.0 347.4ZM525.8 345.6L528.0 343.4L530.2 345.6L528.0 347.8ZM550.1 346.0L552.3 343.8L554.5 346.0L552.3 348.2ZM543.6 347.7L545.8 345.5L548.0 347.7L545.8 349.9ZM578.4 349.0L580.6 346.8L582.8 349.0L580.6 351.2ZM576.5 350.1L578.7 347.9L580.9 350.1L578.7 352.3ZM533.1 350.9L535.3 348.7L537.5 350.9L535.3 353.1ZM567.1 352.5L569.3 350.3L571.5 352.5L569.3 354.7ZM520.9 354.1L523.1 351.9L525.3 354.1L523.1 356.3ZM550.9 355.0L553.1 352.8L555.3 355.0L553.1 357.2ZM559.8 356.1L562.0 353.9L564.2 356.1L562.0 358.3ZM576.5 357.4L578.7 355.2L580.9 357.4L578.7 359.6ZM564.7 360.6L566.9 358.4L569.1 360.6L566.9 362.8ZM542.5 368.7L544.7 366.5L546.9 368.7L544.7 370.9ZM554.1 371.2L556.3 369.0L558.5 371.2L556.3 373.4ZM529.0 370.0L531.2 367.8L533.4 370.0L531.2 372.2ZM529.0 372.0L531.2 369.8L533.4 372.0L531.2 374.2ZM545.7 382.5L547.9 380.3L550.1 382.5L547.9 384.7ZM537.1 394.2L539.3 392.0L541.5 394.2L539.3 396.4ZM614.8 332.4L617.0 330.2L619.2 332.4L617.0 334.6ZM626.4 352.8L628.6 350.6L630.8 352.8L628.6 355.0ZM638.8 387.8L641.0 385.6L643.2 387.8L641.0 390.0ZM481.6 411.2L483.8 409.0L486.0 411.2L483.8 413.4ZM487.1 418.2L489.3 416.0L491.5 418.2L489.3 420.4ZM472.1 424.7L474.3 422.5L476.5 424.7L474.3 426.9Z" fill="#6a6a6a" filter="url(#bl)"/>
<text x="420" y="446.1" font-size="9.7" text-anchor="end" font-weight="normal" fill="#222" textLength="8.4" lengthAdjust="spacingAndGlyphs" stroke="#222" stroke-width="0.25">-4</text>
<text x="420" y="422.4" font-size="9.7" text-anchor="end" font-weight="normal" fill="#222" textLength="8.4" lengthAdjust="spacingAndGlyphs" stroke="#222" stroke-width="0.25">-3</text>
<text x="420" y="398.8" font-size="9.7" text-anchor="end" font-weight="normal" fill="#222" textLength="8.4" lengthAdjust="spacingAndGlyphs" stroke="#222" stroke-width="0.25">-2</text>
<text x="420" y="375.1" font-size="9.7" text-anchor="end" font-weight="normal" fill="#222" textLength="8.4" lengthAdjust="spacingAndGlyphs" stroke="#222" stroke-width="0.25">-1</text>
<text x="420" y="351.5" font-size="9.7" text-anchor="end" font-weight="normal" fill="#222" textLength="5.4" lengthAdjust="spacingAndGlyphs" stroke="#222" stroke-width="0.25">0</text>
<text x="420" y="327.9" font-size="9.7" text-anchor="end" font-weight="normal" fill="#222" textLength="5.4" lengthAdjust="spacingAndGlyphs" stroke="#222" stroke-width="0.25">1</text>
<text x="420" y="304.2" font-size="9.7" text-anchor="end" font-weight="normal" fill="#222" textLength="5.4" lengthAdjust="spacingAndGlyphs" stroke="#222" stroke-width="0.25">2</text>
<text x="420" y="280.6" font-size="9.7" text-anchor="end" font-weight="normal" fill="#222" textLength="5.4" lengthAdjust="spacingAndGlyphs" stroke="#222" stroke-width="0.25">3</text>
<text x="420" y="256.9" font-size="9.7" text-anchor="end" font-weight="normal" fill="#222" textLength="5.4" lengthAdjust="spacingAndGlyphs" stroke="#222" stroke-width="0.25">4</text>
<text x="430.2" y="364.7" font-size="9.7" text-anchor="middle" font-weight="normal" fill="#222" textLength="5.5" lengthAdjust="spacingAndGlyphs" stroke="#222" stroke-width="0.25">0</text>
<text x="470.9" y="364.7" font-size="9.7" text-anchor="middle" font-weight="normal" fill="#222" textLength="22.0" lengthAdjust="spacingAndGlyphs" stroke="#222" stroke-width="0.25">2000</text>
<text x="511.7" y="364.7" font-size="9.7" text-anchor="middle" font-weight="normal" fill="#222" textLength="22.0" lengthAdjust="spacingAndGlyphs" stroke="#222" stroke-width="0.25">4000</text>
<text x="552.5" y="364.7" font-size="9.7" text-anchor="middle" font-weight="normal" fill="#222" textLength="22.0" lengthAdjust="spacingAndGlyphs" stroke="#222" stroke-width="0.25">6000</text>
<text x="593.2" y="364.7" font-size="9.7" text-anchor="middle" font-weight="normal" fill="#222" textLength="22.0" lengthAdjust="spacingAndGlyphs" stroke="#222" stroke-width="0.25">8000</text>
<text x="634.0" y="364.7" font-size="9.7" text-anchor="middle" font-weight="normal" fill="#222" textLength="27.5" lengthAdjust="spacingAndGlyphs" stroke="#222" stroke-width="0.25">10000</text>
<text x="674.7" y="364.7" font-size="9.7" text-anchor="middle" font-weight="normal" fill="#222" textLength="27.5" lengthAdjust="spacingAndGlyphs" stroke="#222" stroke-width="0.25">12000</text>
<text x="386.9" y="350.2" font-size="10.5" text-anchor="middle" font-weight="normal" fill="#222" textLength="33" lengthAdjust="spacingAndGlyphs" transform="rotate(-90 386.9 350.2)" stroke="#222" stroke-width="0.25">CWRES</text>
<text x="554" y="475.4" font-size="10.5" text-anchor="middle" font-weight="normal" fill="#222" textLength="64" lengthAdjust="spacingAndGlyphs" stroke="#222" stroke-width="0.25">PRED (ng/mL)</text>
<text x="369.2" y="263.5" font-size="16.4" text-anchor="start" font-weight="bold" fill="#111">D</text>
</g>
<g>
<rect x="61" y="503.4" width="289" height="245.8" fill="none" stroke="#333" stroke-width="1" shape-rendering="crispEdges"/>
<path d="M52.3 737.1H61M52.3 700.1H61M52.3 663.2H61M52.3 626.2H61M52.3 589.2H61M52.3 552.3H61M52.3 515.4H61M108.4 749.2v7M156.9 749.2v7M205.3 749.2v7M253.8 749.2v7M302.2 749.2v7" stroke="#333" stroke-width="1" fill="none" shape-rendering="crispEdges"/>
<clipPath id="ce"><rect x="61" y="503.4" width="289" height="245.8"/></clipPath>
<path d="M61 714.3L350 533.2" stroke="#404040" stroke-width="1.2" fill="none" clip-path="url(#ce)"/>
<g fill="none" stroke="#0a0a0a" stroke-width="1.05"><ellipse cx="72.1" cy="739.3" rx="3.4" ry="2.9"/><ellipse cx="90.6" cy="739.3" rx="3.4" ry="2.9"/><ellipse cx="100.1" cy="713.6" rx="3.4" ry="2.9"/><ellipse cx="106.7" cy="706.1" rx="3.4" ry="2.9"/><ellipse cx="111.9" cy="704.0" rx="3.4" ry="2.9"/><ellipse cx="116.2" cy="699.8" rx="3.4" ry="2.9"/><ellipse cx="119.9" cy="693.2" rx="3.4" ry="2.9"/><ellipse cx="123.1" cy="680.8" rx="3.4" ry="2.9"/><ellipse cx="126.0" cy="678.8" rx="3.4" ry="2.9"/><ellipse cx="128.7" cy="674.9" rx="3.4" ry="2.9"/><ellipse cx="131.1" cy="674.3" rx="3.4" ry="2.9"/><ellipse cx="133.4" cy="673.2" rx="3.4" ry="2.9"/><ellipse cx="135.5" cy="670.4" rx="3.4" ry="2.9"/><ellipse cx="137.5" cy="669.9" rx="3.4" ry="2.9"/><ellipse cx="139.4" cy="669.4" rx="3.4" ry="2.9"/><ellipse cx="141.2" cy="668.5" rx="3.4" ry="2.9"/><ellipse cx="142.9" cy="667.2" rx="3.4" ry="2.9"/><ellipse cx="144.5" cy="665.6" rx="3.4" ry="2.9"/><ellipse cx="146.1" cy="664.3" rx="3.4" ry="2.9"/><ellipse cx="147.6" cy="663.3" rx="3.4" ry="2.9"/><ellipse cx="149.0" cy="662.6" rx="3.4" ry="2.9"/><ellipse cx="150.4" cy="662.6" rx="3.4" ry="2.9"/><ellipse cx="151.8" cy="662.6" rx="3.4" ry="2.9"/><ellipse cx="153.1" cy="662.6" rx="3.4" ry="2.9"/><ellipse cx="154.4" cy="658.4" rx="3.4" ry="2.9"/><ellipse cx="155.6" cy="656.0" rx="3.4" ry="2.9"/><ellipse cx="156.9" cy="654.6" rx="3.4" ry="2.9"/><ellipse cx="158.0" cy="653.2" rx="3.4" ry="2.9"/><ellipse cx="159.2" cy="651.8" rx="3.4" ry="2.9"/><ellipse cx="160.3" cy="650.5" rx="3.4" ry="2.9"/><ellipse cx="161.4" cy="649.9" rx="3.4" ry="2.9"/><ellipse cx="162.5" cy="649.3" rx="3.4" ry="2.9"/><ellipse cx="163.6" cy="648.7" rx="3.4" ry="2.9"/><ellipse cx="164.6" cy="648.2" rx="3.4" ry="2.9"/><ellipse cx="165.7" cy="647.6" rx="3.4" ry="2.9"/><ellipse cx="166.7" cy="647.0" rx="3.4" ry="2.9"/><ellipse cx="167.7" cy="646.5" rx="3.4" ry="2.9"/><ellipse cx="168.6" cy="645.9" rx="3.4" ry="2.9"/><ellipse cx="169.6" cy="645.4" rx="3.4" ry="2.9"/><ellipse cx="170.5" cy="644.9" rx="3.4" ry="2.9"/><ellipse cx="171.5" cy="644.4" rx="3.4" ry="2.9"/><ellipse cx="172.4" cy="643.9" rx="3.4" ry="2.9"/><ellipse cx="173.3" cy="643.4" rx="3.4" ry="2.9"/><ellipse cx="174.2" cy="642.9" rx="3.4" ry="2.9"/><ellipse cx="175.1" cy="642.4" rx="3.4" ry="2.9"/><ellipse cx="176.0" cy="641.9" rx="3.4" ry="2.9"/><ellipse cx="176.8" cy="641.4" rx="3.4" ry="2.9"/><ellipse cx="177.7" cy="640.9" rx="3.4" ry="2.9"/><ellipse cx="178.5" cy="640.5" rx="3.4" ry="2.9"/><ellipse cx="179.4" cy="640.0" rx="3.4" ry="2.9"/><ellipse cx="180.2" cy="639.6" rx="3.4" ry="2.9"/><ellipse cx="181.1" cy="639.2" rx="3.4" ry="2.9"/><ellipse cx="181.9" cy="638.8" rx="3.4" ry="2.9"/><ellipse cx="182.7" cy="638.4" rx="3.4" ry="2.9"/><ellipse cx="183.5" cy="638.0" rx="3.4" ry="2.9"/><ellipse cx="184.3" cy="637.6" rx="3.4" ry="2.9"/><ellipse cx="185.1" cy="637.2" rx="3.4" ry="2.9"/><ellipse cx="185.9" cy="636.7" rx="3.4" ry="2.9"/><ellipse cx="186.7" cy="636.0" rx="3.4" ry="2.9"/><ellipse cx="187.5" cy="635.3" rx="3.4" ry="2.9"/><ellipse cx="188.2" cy="634.6" rx="3.4" ry="2.9"/><ellipse cx="189.0" cy="633.9" rx="3.4" ry="2.9"/><ellipse cx="189.8" cy="633.3" rx="3.4" ry="2.9"/><ellipse cx="190.5" cy="632.6" rx="3.4" ry="2.9"/><ellipse cx="191.3" cy="631.9" rx="3.4" ry="2.9"/><ellipse cx="192.0" cy="631.2" rx="3.4" ry="2.9"/><ellipse cx="192.8" cy="630.6" rx="3.4" ry="2.9"/><ellipse cx="193.6" cy="629.9" rx="3.4" ry="2.9"/><ellipse cx="194.3" cy="629.2" rx="3.4" ry="2.9"/><ellipse cx="195.0" cy="628.6" rx="3.4" ry="2.9"/><ellipse cx="195.8" cy="628.2" rx="3.4" ry="2.9"/><ellipse cx="196.5" cy="627.7" rx="3.4" ry="2.9"/><ellipse cx="197.3" cy="627.3" rx="3.4" ry="2.9"/><ellipse cx="198.0" cy="626.9" rx="3.4" ry="2.9"/><ellipse cx="198.7" cy="626.5" rx="3.4" ry="2.9"/><ellipse cx="199.5" cy="626.1" rx="3.4" ry="2.9"/><ellipse cx="200.2" cy="625.7" rx="3.4" ry="2.9"/><ellipse cx="200.9" cy="625.3" rx="3.4" ry="2.9"/><ellipse cx="201.7" cy="624.9" rx="3.4" ry="2.9"/><ellipse cx="202.4" cy="624.5" rx="3.4" ry="2.9"/><ellipse cx="203.1" cy="624.1" rx="3.4" ry="2.9"/><ellipse cx="203.8" cy="623.7" rx="3.4" ry="2.9"/><ellipse cx="204.6" cy="623.3" rx="3.4" ry="2.9"/><ellipse cx="205.3" cy="622.9" rx="3.4" ry="2.9"/><ellipse cx="206.0" cy="622.5" rx="3.4" ry="2.9"/><ellipse cx="206.8" cy="622.0" rx="3.4" ry="2.9"/><ellipse cx="207.5" cy="621.6" rx="3.4" ry="2.9"/><ellipse cx="208.2" cy="621.2" rx="3.4" ry="2.9"/><ellipse cx="208.9" cy="620.8" rx="3.4" ry="2.9"/><ellipse cx="209.7" cy="620.4" rx="3.4" ry="2.9"/><ellipse cx="210.4" cy="620.0" rx="3.4" ry="2.9"/><ellipse cx="211.1" cy="619.6" rx="3.4" ry="2.9"/><ellipse cx="211.9" cy="618.4" rx="3.4" ry="2.9"/><ellipse cx="212.6" cy="616.4" rx="3.4" ry="2.9"/><ellipse cx="213.3" cy="614.5" rx="3.4" ry="2.9"/><ellipse cx="214.1" cy="614.0" rx="3.4" ry="2.9"/><ellipse cx="214.8" cy="613.6" rx="3.4" ry="2.9"/><ellipse cx="215.6" cy="613.1" rx="3.4" ry="2.9"/><ellipse cx="216.3" cy="612.7" rx="3.4" ry="2.9"/><ellipse cx="217.0" cy="612.2" rx="3.4" ry="2.9"/><ellipse cx="217.8" cy="611.7" rx="3.4" ry="2.9"/><ellipse cx="218.6" cy="611.3" rx="3.4" ry="2.9"/><ellipse cx="219.3" cy="610.8" rx="3.4" ry="2.9"/><ellipse cx="220.1" cy="610.4" rx="3.4" ry="2.9"/><ellipse cx="220.8" cy="609.9" rx="3.4" ry="2.9"/><ellipse cx="221.6" cy="609.4" rx="3.4" ry="2.9"/><ellipse cx="222.4" cy="608.9" rx="3.4" ry="2.9"/><ellipse cx="223.1" cy="608.5" rx="3.4" ry="2.9"/><ellipse cx="223.9" cy="608.0" rx="3.4" ry="2.9"/><ellipse cx="224.7" cy="607.5" rx="3.4" ry="2.9"/><ellipse cx="225.5" cy="607.0" rx="3.4" ry="2.9"/><ellipse cx="226.3" cy="606.6" rx="3.4" ry="2.9"/><ellipse cx="227.1" cy="606.2" rx="3.4" ry="2.9"/><ellipse cx="227.9" cy="605.8" rx="3.4" ry="2.9"/><ellipse cx="228.7" cy="605.5" rx="3.4" ry="2.9"/><ellipse cx="229.5" cy="605.1" rx="3.4" ry="2.9"/><ellipse cx="230.4" cy="604.8" rx="3.4" ry="2.9"/><ellipse cx="231.2" cy="604.4" rx="3.4" ry="2.9"/><ellipse cx="232.1" cy="604.0" rx="3.4" ry="2.9"/><ellipse cx="232.9" cy="603.6" rx="3.4" ry="2.9"/><ellipse cx="233.8" cy="603.3" rx="3.4" ry="2.9"/><ellipse cx="234.6" cy="602.9" rx="3.4" ry="2.9"/><ellipse cx="235.5" cy="602.5" rx="3.4" ry="2.9"/><ellipse cx="236.4" cy="602.1" rx="3.4" ry="2.9"/><ellipse cx="237.3" cy="601.7" rx="3.4" ry="2.9"/><ellipse cx="238.2" cy="601.3" rx="3.4" ry="2.9"/><ellipse cx="239.1" cy="600.9" rx="3.4" ry="2.9"/><ellipse cx="240.1" cy="600.5" rx="3.4" ry="2.9"/><ellipse cx="241.0" cy="600.0" rx="3.4" ry="2.9"/><ellipse cx="242.0" cy="599.6" rx="3.4" ry="2.9"/><ellipse cx="242.9" cy="599.2" rx="3.4" ry="2.9"/><ellipse cx="243.9" cy="598.8" rx="3.4" ry="2.9"/><ellipse cx="244.9" cy="598.4" rx="3.4" ry="2.9"/><ellipse cx="246.0" cy="598.0" rx="3.4" ry="2.9"/><ellipse cx="247.0" cy="597.6" rx="3.4" ry="2.9"/><ellipse cx="248.1" cy="597.2" rx="3.4" ry="2.9"/><ellipse cx="249.2" cy="596.8" rx="3.4" ry="2.9"/><ellipse cx="250.3" cy="596.3" rx="3.4" ry="2.9"/><ellipse cx="251.4" cy="595.9" rx="3.4" ry="2.9"/><ellipse cx="252.6" cy="594.4" rx="3.4" ry="2.9"/><ellipse cx="253.7" cy="592.9" rx="3.4" ry="2.9"/><ellipse cx="255.0" cy="591.5" rx="3.4" ry="2.9"/><ellipse cx="256.2" cy="589.3" rx="3.4" ry="2.9"/><ellipse cx="257.5" cy="586.0" rx="3.4" ry="2.9"/><ellipse cx="258.8" cy="584.7" rx="3.4" ry="2.9"/><ellipse cx="260.2" cy="582.6" rx="3.4" ry="2.9"/><ellipse cx="261.6" cy="580.2" rx="3.4" ry="2.9"/><ellipse cx="263.0" cy="577.6" rx="3.4" ry="2.9"/><ellipse cx="264.5" cy="576.1" rx="3.4" ry="2.9"/><ellipse cx="266.1" cy="574.2" rx="3.4" ry="2.9"/><ellipse cx="267.7" cy="572.2" rx="3.4" ry="2.9"/><ellipse cx="269.4" cy="569.5" rx="3.4" ry="2.9"/><ellipse cx="271.2" cy="564.4" rx="3.4" ry="2.9"/><ellipse cx="273.1" cy="557.9" rx="3.4" ry="2.9"/><ellipse cx="275.1" cy="556.8" rx="3.4" ry="2.9"/><ellipse cx="277.2" cy="555.4" rx="3.4" ry="2.9"/><ellipse cx="279.5" cy="554.3" rx="3.4" ry="2.9"/><ellipse cx="281.9" cy="553.0" rx="3.4" ry="2.9"/><ellipse cx="284.6" cy="551.8" rx="3.4" ry="2.9"/><ellipse cx="287.5" cy="548.9" rx="3.4" ry="2.9"/><ellipse cx="290.7" cy="546.7" rx="3.4" ry="2.9"/><ellipse cx="294.4" cy="546.3" rx="3.4" ry="2.9"/><ellipse cx="298.7" cy="533.3" rx="3.4" ry="2.9"/><ellipse cx="303.9" cy="529.1" rx="3.4" ry="2.9"/><ellipse cx="310.5" cy="528.7" rx="3.4" ry="2.9"/><ellipse cx="320.0" cy="528.7" rx="3.4" ry="2.9"/><ellipse cx="338.5" cy="513.2" rx="3.4" ry="2.9"/></g>
<text x="41" y="737.1" font-size="12.5" text-anchor="middle" font-weight="normal" fill="#111" textLength="12" lengthAdjust="spacingAndGlyphs" transform="rotate(-90 41 737.1)" stroke="#111" stroke-width="0.25">−3</text>
<text x="41" y="700.1" font-size="12.5" text-anchor="middle" font-weight="normal" fill="#111" textLength="12" lengthAdjust="spacingAndGlyphs" transform="rotate(-90 41 700.1)" stroke="#111" stroke-width="0.25">−2</text>
<text x="41" y="663.2" font-size="12.5" text-anchor="middle" font-weight="normal" fill="#111" textLength="12" lengthAdjust="spacingAndGlyphs" transform="rotate(-90 41 663.2)" stroke="#111" stroke-width="0.25">−1</text>
<text x="41" y="626.2" font-size="12.5" text-anchor="middle" font-weight="normal" fill="#111" textLength="7" lengthAdjust="spacingAndGlyphs" transform="rotate(-90 41 626.2)" stroke="#111" stroke-width="0.25">0</text>
<text x="41" y="589.2" font-size="12.5" text-anchor="middle" font-weight="normal" fill="#111" textLength="7" lengthAdjust="spacingAndGlyphs" transform="rotate(-90 41 589.2)" stroke="#111" stroke-width="0.25">1</text>
<text x="41" y="552.3" font-size="12.5" text-anchor="middle" font-weight="normal" fill="#111" textLength="7" lengthAdjust="spacingAndGlyphs" transform="rotate(-90 41 552.3)" stroke="#111" stroke-width="0.25">2</text>
<text x="41" y="515.4" font-size="12.5" text-anchor="middle" font-weight="normal" fill="#111" textLength="7" lengthAdjust="spacingAndGlyphs" transform="rotate(-90 41 515.4)" stroke="#111" stroke-width="0.25">3</text>
<text x="108.4" y="775" font-size="10" text-anchor="middle" font-weight="normal" fill="#111" textLength="14" lengthAdjust="spacingAndGlyphs" stroke="#111" stroke-width="0.25">−2</text>
<text x="156.9" y="775" font-size="10" text-anchor="middle" font-weight="normal" fill="#111" textLength="14" lengthAdjust="spacingAndGlyphs" stroke="#111" stroke-width="0.25">−1</text>
<text x="205.3" y="775" font-size="10" text-anchor="middle" font-weight="normal" fill="#111" textLength="7.4" lengthAdjust="spacingAndGlyphs" stroke="#111" stroke-width="0.25">0</text>
<text x="253.8" y="775" font-size="10" text-anchor="middle" font-weight="normal" fill="#111" textLength="7.4" lengthAdjust="spacingAndGlyphs" stroke="#111" stroke-width="0.25">1</text>
<text x="302.2" y="775" font-size="10" text-anchor="middle" font-weight="normal" fill="#111" textLength="7.4" lengthAdjust="spacingAndGlyphs" stroke="#111" stroke-width="0.25">2</text>
<text x="15.4" y="635" font-size="11.7" text-anchor="middle" font-weight="normal" fill="#222" textLength="111.7" lengthAdjust="spacingAndGlyphs" transform="rotate(-90 15.4 635)" stroke="#222" stroke-width="0.25">Theorerical Quantiles</text>
<text x="200" y="797.6" font-size="11.7" text-anchor="middle" font-weight="normal" fill="#222" textLength="90.7" lengthAdjust="spacingAndGlyphs" stroke="#222" stroke-width="0.25">Sample Quantiles</text>
<text x="6.3" y="520.8" font-size="16.4" text-anchor="start" font-weight="bold" fill="#111">E</text>
</g>
<g>
<path d="M439.3 739.4V728.1H458.3V739.4ZM458.3 739.4V739.4H477.4V739.4ZM477.4 739.4V721.5H496.4V739.4ZM496.4 739.4V728.1H515.4V739.4ZM515.4 739.4V661.6H534.5V739.4ZM534.5 739.4V613.8H553.5V739.4ZM553.5 739.4V512.5H572.5V739.4ZM572.5 739.4V524.3H591.5V739.4ZM591.5 739.4V584.2H610.6V739.4ZM610.6 739.4V691.5H629.6V739.4ZM629.6 739.4V691.5H648.6V739.4ZM648.6 739.4V721.5H667.7V739.4ZM667.7 739.4V715.8H686.7V739.4ZM686.7 739.4V733.9H705.7V739.4Z" fill="#fff" stroke="#333" stroke-width="1" stroke-linejoin="miter" shape-rendering="crispEdges"/>
<path d="M454.8 737.7 L455.9 737.6 L457.1 737.4 L458.2 737.2 L459.4 737.0 L460.5 736.8 L461.6 736.6 L462.8 736.3 L463.9 736.0 L465.1 735.7 L466.2 735.4 L467.4 735.0 L468.5 734.7 L469.6 734.3 L470.8 733.8 L471.9 733.4 L473.1 732.9 L474.2 732.4 L475.3 731.8 L476.5 731.2 L477.6 730.5 L478.8 729.9 L479.9 729.1 L481.1 728.4 L482.2 727.6 L483.3 726.7 L484.5 725.8 L485.6 724.8 L486.8 723.8 L487.9 722.7 L489.0 721.5 L490.2 720.3 L491.3 719.1 L492.5 717.7 L493.6 716.3 L494.8 714.9 L495.9 713.3 L497.0 711.7 L498.2 710.0 L499.3 708.3 L500.5 706.5 L501.6 704.6 L502.8 702.6 L503.9 700.5 L505.0 698.4 L506.2 696.2 L507.3 693.9 L508.5 691.5 L509.6 689.0 L510.7 686.5 L511.9 683.9 L513.0 681.2 L514.2 678.4 L515.3 675.6 L516.5 672.7 L517.6 669.7 L518.7 666.7 L519.9 663.6 L521.0 660.4 L522.2 657.2 L523.3 653.9 L524.4 650.6 L525.6 647.2 L526.7 643.8 L527.9 640.3 L529.0 636.8 L530.2 633.3 L531.3 629.7 L532.4 626.2 L533.6 622.6 L534.7 619.0 L535.9 615.5 L537.0 611.9 L538.1 608.4 L539.3 604.8 L540.4 601.3 L541.6 597.9 L542.7 594.5 L543.9 591.1 L545.0 587.8 L546.1 584.5 L547.3 581.4 L548.4 578.3 L549.6 575.3 L550.7 572.4 L551.8 569.6 L553.0 566.9 L554.1 564.3 L555.3 561.8 L556.4 559.5 L557.6 557.3 L558.7 555.2 L559.8 553.3 L561.0 551.6 L562.1 550.0 L563.3 548.5 L564.4 547.2 L565.5 546.1 L566.7 545.1 L567.8 544.3 L569.0 543.7 L570.1 543.3 L571.3 543.0 L572.4 542.9 L573.5 543.0 L574.7 543.3 L575.8 543.7 L577.0 544.3 L578.1 545.1 L579.3 546.1 L580.4 547.2 L581.5 548.5 L582.7 550.0 L583.8 551.6 L585.0 553.3 L586.1 555.2 L587.2 557.3 L588.4 559.5 L589.5 561.8 L590.7 564.3 L591.8 566.9 L593.0 569.6 L594.1 572.4 L595.2 575.3 L596.4 578.3 L597.5 581.4 L598.7 584.5 L599.8 587.8 L600.9 591.1 L602.1 594.5 L603.2 597.9 L604.4 601.3 L605.5 604.8 L606.7 608.4 L607.8 611.9 L608.9 615.5 L610.1 619.0 L611.2 622.6 L612.4 626.2 L613.5 629.7 L614.6 633.3 L615.8 636.8 L616.9 640.3 L618.1 643.8 L619.2 647.2 L620.4 650.6 L621.5 653.9 L622.6 657.2 L623.8 660.4 L624.9 663.6 L626.1 666.7 L627.2 669.7 L628.3 672.7 L629.5 675.6 L630.6 678.4 L631.8 681.2 L632.9 683.9 L634.1 686.5 L635.2 689.0 L636.3 691.5 L637.5 693.9 L638.6 696.2 L639.8 698.4 L640.9 700.5 L642.0 702.6 L643.2 704.6 L644.3 706.5 L645.5 708.3 L646.6 710.0 L647.8 711.7 L648.9 713.3 L650.0 714.9 L651.2 716.3 L652.3 717.7 L653.5 719.1 L654.6 720.3 L655.8 721.5 L656.9 722.7 L658.0 723.8 L659.2 724.8 L660.3 725.8 L661.5 726.7 L662.6 727.6 L663.7 728.4 L664.9 729.1 L666.0 729.9 L667.2 730.5 L668.3 731.2 L669.5 731.8 L670.6 732.4 L671.7 732.9 L672.9 733.4 L674.0 733.8 L675.2 734.3 L676.3 734.7 L677.4 735.0 L678.6 735.4 L679.7 735.7 L680.9 736.0 L682.0 736.3 L683.2 736.6 L684.3 736.8 L685.4 737.0 L686.6 737.2 L687.7 737.4 L688.9 737.6 L690.0 737.7" fill="none" stroke="#666" stroke-width="1.4"/>
<path d="M428.2 739.4V542.4M419 739.4H428.2M419 690.1H428.2M419 640.9H428.2M419 591.6H428.2M419 542.4H428.2M458.2 749.4H686.6M458.2 749.4v7.2M496.3 749.4v7.2M534.3 749.4v7.2M572.4 749.4v7.2M610.5 749.4v7.2M648.5 749.4v7.2M686.6 749.4v7.2" stroke="#333" stroke-width="1" fill="none" shape-rendering="crispEdges"/>
<text x="407.2" y="739.4" font-size="12.5" text-anchor="middle" font-weight="normal" fill="#111" textLength="13.8" lengthAdjust="spacingAndGlyphs" transform="rotate(-90 407.2 739.4)" stroke="#111" stroke-width="0.25">0.0</text>
<text x="407.2" y="690.1" font-size="12.5" text-anchor="middle" font-weight="normal" fill="#111" textLength="13.8" lengthAdjust="spacingAndGlyphs" transform="rotate(-90 407.2 690.1)" stroke="#111" stroke-width="0.25">0.1</text>
<text x="407.2" y="640.9" font-size="12.5" text-anchor="middle" font-weight="normal" fill="#111" textLength="13.8" lengthAdjust="spacingAndGlyphs" transform="rotate(-90 407.2 640.9)" stroke="#111" stroke-width="0.25">0.2</text>
<text x="407.2" y="591.6" font-size="12.5" text-anchor="middle" font-weight="normal" fill="#111" textLength="13.8" lengthAdjust="spacingAndGlyphs" transform="rotate(-90 407.2 591.6)" stroke="#111" stroke-width="0.25">0.3</text>
<text x="407.2" y="542.4" font-size="12.5" text-anchor="middle" font-weight="normal" fill="#111" textLength="13.8" lengthAdjust="spacingAndGlyphs" transform="rotate(-90 407.2 542.4)" stroke="#111" stroke-width="0.25">0.4</text>
<text x="458.2" y="775" font-size="10" text-anchor="middle" font-weight="normal" fill="#111" textLength="14" lengthAdjust="spacingAndGlyphs" stroke="#111" stroke-width="0.25">−3</text>
<text x="496.3" y="775" font-size="10" text-anchor="middle" font-weight="normal" fill="#111" textLength="14" lengthAdjust="spacingAndGlyphs" stroke="#111" stroke-width="0.25">−2</text>
<text x="534.3" y="775" font-size="10" text-anchor="middle" font-weight="normal" fill="#111" textLength="14" lengthAdjust="spacingAndGlyphs" stroke="#111" stroke-width="0.25">−1</text>
<text x="572.4" y="775" font-size="10" text-anchor="middle" font-weight="normal" fill="#111" textLength="7.4" lengthAdjust="spacingAndGlyphs" stroke="#111" stroke-width="0.25">0</text>
<text x="610.5" y="775" font-size="10" text-anchor="middle" font-weight="normal" fill="#111" textLength="7.4" lengthAdjust="spacingAndGlyphs" stroke="#111" stroke-width="0.25">1</text>
<text x="648.5" y="775" font-size="10" text-anchor="middle" font-weight="normal" fill="#111" textLength="7.4" lengthAdjust="spacingAndGlyphs" stroke="#111" stroke-width="0.25">2</text>
<text x="686.6" y="775" font-size="10" text-anchor="middle" font-weight="normal" fill="#111" textLength="7.4" lengthAdjust="spacingAndGlyphs" stroke="#111" stroke-width="0.25">3</text>
<text x="383.1" y="639.7" font-size="12.4" text-anchor="middle" font-weight="normal" fill="#222" textLength="53.3" lengthAdjust="spacingAndGlyphs" transform="rotate(-90 383.1 639.7)" stroke="#222" stroke-width="0.25">Frequency</text>
<text x="577" y="794.8" font-size="12" text-anchor="middle" font-weight="normal" fill="#222" textLength="28.7" lengthAdjust="spacingAndGlyphs" stroke="#222" stroke-width="0.25">NPDE</text>
<text x="372.6" y="520.4" font-size="16.4" text-anchor="start" font-weight="bold" fill="#111">F</text>
</g>
</svg></body></html>
